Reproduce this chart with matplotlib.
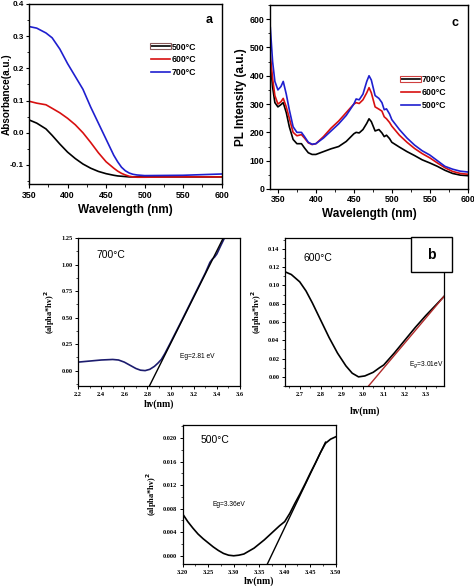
import numpy as np
import matplotlib.pyplot as plt
from matplotlib.patches import Rectangle
from matplotlib.transforms import IdentityTransform
from matplotlib.ticker import MultipleLocator, FormatStrFormatter

# ---- panel a : absorbance ----
abs_wl = [350, 360, 372, 380, 390, 400, 410, 420, 430, 440, 450, 460, 465, 470, 475, 480, 485,
          490, 500, 550, 600]
abs_500 = [0.040, 0.030, 0.012, -0.008, -0.035, -0.060, -0.080, -0.097, -0.110, -0.120, -0.127,
           -0.132, -0.134, -0.135, -0.136, -0.137, -0.137, -0.137, -0.137, -0.137, -0.137]
abs_600 = [0.098, 0.092, 0.087, 0.076, 0.062, 0.045, 0.025, 0.000, -0.030, -0.062, -0.090,
           -0.110, -0.119, -0.126, -0.131, -0.135, -0.137, -0.138, -0.138, -0.137, -0.137]
abs_700 = [0.330, 0.325, 0.310, 0.295, 0.260, 0.215, 0.175, 0.135, 0.080, 0.030, -0.020,
           -0.070, -0.090, -0.107, -0.118, -0.125, -0.129, -0.131, -0.133, -0.132, -0.128]

# ---- panel c : photoluminescence ----
pl_wl = [340, 343, 346, 350, 354, 357, 361, 365, 370, 375, 381, 385, 390, 395, 400, 410, 420,
         430, 440, 450, 453, 457, 462, 467, 470, 473, 478, 483, 487, 490, 493, 497, 500, 510,
         520, 530, 540, 550, 560, 570, 580, 590, 600]
pl_700 = [450, 360, 305, 290, 298, 305, 270, 220, 175, 160, 160, 145, 128, 122, 122, 132, 142,
          150, 168, 195, 200, 198, 210, 232, 248, 238, 205, 210, 198, 185, 190, 178, 165, 148,
          132, 118, 103, 92, 80, 66, 55, 49, 47]
pl_600 = [470, 390, 330, 300, 308, 320, 290, 250, 200, 188, 192, 180, 163, 157, 160, 185, 215,
          240, 270, 300, 305, 302, 315, 340, 358, 340, 290, 282, 275, 255, 248, 235, 222, 190,
          165, 143, 125, 110, 92, 75, 62, 55, 52]
pl_500 = [570, 450, 380, 350, 362, 380, 335, 280, 220, 200, 200, 185, 165, 158, 160, 180, 205,
          230, 260, 300, 318, 315, 335, 380, 400, 385, 330, 320, 305, 280, 283, 265, 245, 210,
          180, 155, 135, 120, 100, 80, 70, 63, 60]

# ---- Tauc plots ----
hv_700 = [2.20, 2.30, 2.40, 2.50, 2.55, 2.60, 2.65, 2.70, 2.74, 2.78, 2.82, 2.86, 2.89, 2.92,
          2.95, 3.00, 3.10, 3.20, 3.30, 3.34, 3.36, 3.38, 3.40, 3.43, 3.47]
tauc_700 = [0.080, 0.090, 0.100, 0.105, 0.100, 0.080, 0.050, 0.020, 0.004, 0.000, 0.012, 0.040,
            0.070, 0.105, 0.160, 0.265, 0.480, 0.700, 0.920, 1.020, 1.050, 1.070, 1.100, 1.170,
            1.260]
fit_700_x = [2.817, 3.455]
fit_700_y = [-0.145, 1.25]

hv_600 = [2.63, 2.66, 2.70, 2.73, 2.76, 2.80, 2.84, 2.88, 2.92, 2.95, 2.98, 3.01, 3.05, 3.08,
          3.10, 3.15, 3.20, 3.25, 3.30, 3.35, 3.387]
tauc_600 = [0.115, 0.112, 0.104, 0.094, 0.081, 0.062, 0.043, 0.026, 0.012, 0.004, 0.000, 0.001,
            0.005, 0.010, 0.013, 0.026, 0.040, 0.054, 0.067, 0.079, 0.088]
fit_600_x = [3.024, 3.387]
fit_600_y = [-0.011, 0.088]

hv_500 = [3.20, 3.21, 3.22, 3.23, 3.24, 3.25, 3.26, 3.27, 3.28, 3.29, 3.30, 3.31, 3.32, 3.33,
          3.34, 3.35, 3.36, 3.37, 3.38, 3.39, 3.40, 3.41, 3.42, 3.43, 3.44, 3.45, 3.46, 3.47,
          3.48, 3.49, 3.50]
tauc_500 = [0.0071, 0.0058, 0.0047, 0.0037, 0.0029, 0.0022, 0.0015, 0.0009, 0.0004, 0.0001,
            0.0000, 0.0001, 0.0003, 0.0008, 0.0013, 0.0020, 0.0027, 0.0035, 0.0043, 0.0051,
            0.0058, 0.0072, 0.0089, 0.0105, 0.0122, 0.0140, 0.0157, 0.0175, 0.0191, 0.0198,
            0.0202]
fit_500_x = [3.366, 3.48]
fit_500_y = [-0.0014, 0.0193]

temps = ['500°C', '600°C', '700°C']

sans = ['Liberation Sans', 'DejaVu Sans']
serif = ['Liberation Serif', 'DejaVu Serif']

fig = plt.figure(figsize=(4.74, 5.86), dpi=100)


def style_top(ax):
    ax.tick_params(axis='both', which='major', direction='out', length=3, width=0.8,
                   labelsize=6.3, pad=1.5)
    ax.tick_params(axis='both', which='minor', direction='out', length=1.8, width=0.6)
    for lab in ax.get_xticklabels() + ax.get_yticklabels():
        lab.set_fontweight('bold')
        lab.set_family(sans)
    for sp in ax.spines.values():
        sp.set_linewidth(1.0)


def style_tauc(ax):
    ax.tick_params(axis='both', which='major', direction='out', length=2.5, width=0.7,
                   labelsize=4.6, pad=1.5)
    ax.tick_params(axis='both', which='minor', direction='out', length=1.5, width=0.5)
    for lab in ax.get_xticklabels() + ax.get_yticklabels():
        lab.set_fontweight('bold')
        lab.set_family(serif)
    for sp in ax.spines.values():
        sp.set_linewidth(0.9)


# panel a
ax_a = fig.add_axes([0.0612, 0.6855, 0.4065, 0.3077])
ax_a.plot(abs_wl, abs_500, color='black', lw=1.2, label=temps[0])
ax_a.plot(abs_wl, abs_600, color='#d81010', lw=1.2, label=temps[1])
ax_a.plot(abs_wl, abs_700, color='#1f1fcf', lw=1.2, label=temps[2])
ax_a.set_xlim(350, 600)
ax_a.set_ylim(-0.16, 0.4)
ax_a.xaxis.set_major_locator(MultipleLocator(50))
ax_a.xaxis.set_minor_locator(MultipleLocator(25))
ax_a.yaxis.set_major_locator(MultipleLocator(0.1))
ax_a.yaxis.set_minor_locator(MultipleLocator(0.05))
ax_a.yaxis.set_major_formatter(FormatStrFormatter('%.1f'))
style_top(ax_a)
ax_a.tick_params(axis='y', which='major', length=2.5, labelsize=5.8, pad=1)
ax_a.set_xlabel('Wavelength (nm)', fontsize=8.5, fontweight='bold', family=sans, labelpad=3)
ax_a.set_ylabel('Absorbance(a.u.)', fontsize=7.2, fontweight='bold', family=sans, labelpad=0)
ax_a.yaxis.set_label_coords(-0.092, 0.5)
ax_a.text(0.935, 0.91, 'a', transform=ax_a.transAxes, fontsize=9, fontweight='bold',
          family=sans, ha='center', va='center')
leg_a = ax_a.legend(loc='upper left', bbox_to_anchor=(0.59, 0.83), frameon=False,
                    handlelength=2.2, handletextpad=0.2, labelspacing=0.45,
                    prop={'family': sans, 'weight': 'bold', 'size': 6.3})

# panel c
ax_c = fig.add_axes([0.5703, 0.6775, 0.4165, 0.314])
ax_c.plot(pl_wl, pl_700, color='black', lw=1.2, label=temps[2])
ax_c.plot(pl_wl, pl_600, color='#d81010', lw=1.2, label=temps[1])
ax_c.plot(pl_wl, pl_500, color='#1f1fcf', lw=1.2, label=temps[0])
ax_c.set_xlim(340, 600)
ax_c.set_ylim(0, 650)
ax_c.xaxis.set_major_locator(MultipleLocator(50))
ax_c.xaxis.set_minor_locator(MultipleLocator(25))
ax_c.yaxis.set_major_locator(MultipleLocator(100))
ax_c.yaxis.set_minor_locator(MultipleLocator(50))
style_top(ax_c)
ax_c.set_xlabel('Wavelength (nm)', fontsize=8.5, fontweight='bold', family=sans, labelpad=3)
ax_c.set_ylabel('PL Intensity (a.u.)', fontsize=8.5, fontweight='bold', family=sans, labelpad=2)
ax_c.text(0.935, 0.9, 'c', transform=ax_c.transAxes, fontsize=9, fontweight='bold',
          family=sans, ha='center', va='center')
leg_c = ax_c.legend(loc='upper left', bbox_to_anchor=(0.62, 0.66), frameon=False,
                    handlelength=2.2, handletextpad=0.2, labelspacing=0.45,
                    prop={'family': sans, 'weight': 'bold', 'size': 6.3})

ylab = '(alpha*h\u03bd)$^{\\mathbf{2}}$'

# Tauc 700
ax7 = fig.add_axes([0.1646, 0.3413, 0.3418, 0.2526])
ax7.plot(hv_700, tauc_700, color='#1c1c6e', lw=1.2)
ax7.plot(fit_700_x, fit_700_y, color='black', lw=1.0)
ax7.set_xlim(2.2, 3.6)
ax7.set_ylim(-0.145, 1.25)
ax7.xaxis.set_major_locator(MultipleLocator(0.2))
ax7.xaxis.set_minor_locator(MultipleLocator(0.1))
ax7.xaxis.set_major_formatter(FormatStrFormatter('%.1f'))
ax7.yaxis.set_major_locator(MultipleLocator(0.25))
ax7.yaxis.set_minor_locator(MultipleLocator(0.125))
ax7.yaxis.set_major_formatter(FormatStrFormatter('%.2f'))
style_tauc(ax7)
ax7.set_xlabel('hv(nm)', fontsize=7, fontweight='bold', family=serif, labelpad=2)
ax7.set_ylabel(ylab, fontsize=6, fontweight='bold', family=serif, labelpad=3)
ax7.text(2.36, 1.09, '700°C', fontsize=7.5, family=sans, va='center')
ax7.text(3.08, 0.13, 'Eg=2.81 eV', fontsize=4.8, family=sans, va='center')

# Tauc 600
ax6 = fig.add_axes([0.6013, 0.3413, 0.3354, 0.2526])
ax6.plot(hv_600, tauc_600, color='black', lw=1.2)
ax6.plot(fit_600_x, fit_600_y, color='#b02a2a', lw=1.0)
ax6.set_xlim(2.63, 3.387)
ax6.set_ylim(-0.01, 0.152)
ax6.xaxis.set_major_locator(MultipleLocator(0.1))
ax6.xaxis.set_minor_locator(MultipleLocator(0.05))
ax6.xaxis.set_major_formatter(FormatStrFormatter('%.1f'))
ax6.yaxis.set_major_locator(MultipleLocator(0.02))
ax6.yaxis.set_minor_locator(MultipleLocator(0.01))
ax6.yaxis.set_major_formatter(FormatStrFormatter('%.2f'))
style_tauc(ax6)
ax6.set_xlabel('hv(nm)', fontsize=7, fontweight='bold', family=serif)
ax6.xaxis.set_label_coords(0.5, -0.135)
ax6.set_ylabel(ylab, fontsize=6, fontweight='bold', family=serif, labelpad=3)
ax6.text(2.72, 0.13, '600°C', fontsize=7.5, family=sans, va='center')
ax6.text(3.22, 0.013, 'E$_g$=3.01eV', fontsize=4.8, family=sans, va='center')
ax6.add_patch(Rectangle((0.795, 0.77), 0.255, 0.235, transform=ax6.transAxes,
                        facecolor='white', edgecolor='black', lw=1.0, clip_on=False, zorder=5))
ax6.text(0.92, 0.885, 'b', transform=ax6.transAxes, fontsize=10, fontweight='bold',
         family=sans, ha='center', va='center', zorder=6)

# Tauc 500
ax5 = fig.add_axes([0.3854, 0.0375, 0.3228, 0.2372])
ax5.plot(hv_500, tauc_500, color='black', lw=1.2)
ax5.plot(fit_500_x, fit_500_y, color='black', lw=1.0)
ax5.set_xlim(3.2, 3.5)
ax5.set_ylim(-0.0014, 0.0222)
ax5.xaxis.set_major_locator(MultipleLocator(0.05))
ax5.xaxis.set_minor_locator(MultipleLocator(0.025))
ax5.xaxis.set_major_formatter(FormatStrFormatter('%.2f'))
ax5.yaxis.set_major_locator(MultipleLocator(0.004))
ax5.yaxis.set_minor_locator(MultipleLocator(0.002))
ax5.yaxis.set_major_formatter(FormatStrFormatter('%.3f'))
style_tauc(ax5)
ax5.set_xlabel('hv(nm)', fontsize=7, fontweight='bold', family=serif, labelpad=1)
ax5.set_ylabel(ylab, fontsize=6, fontweight='bold', family=serif, labelpad=3)
ax5.text(3.235, 0.0196, '500°C', fontsize=7.5, family=sans, va='center')
ax5.text(3.258, 0.0087, 'Eg=3.36eV', fontsize=4.8, family=sans, va='center')

# little boxes drawn round the first legend key, as in the original
fig.canvas.draw()
for leg, col in [(leg_a, '#8a5a5a'), (leg_c, '#d04040')]:
    bb = leg.legend_handles[0].get_window_extent(fig.canvas.get_renderer())
    fig.add_artist(Rectangle((bb.x0 - 1, bb.y0 - 3), bb.width + 2, bb.height + 6,
                             transform=IdentityTransform(), fill=False,
                             edgecolor=col, lw=0.8))

fig.savefig('out.png', dpi=100)
